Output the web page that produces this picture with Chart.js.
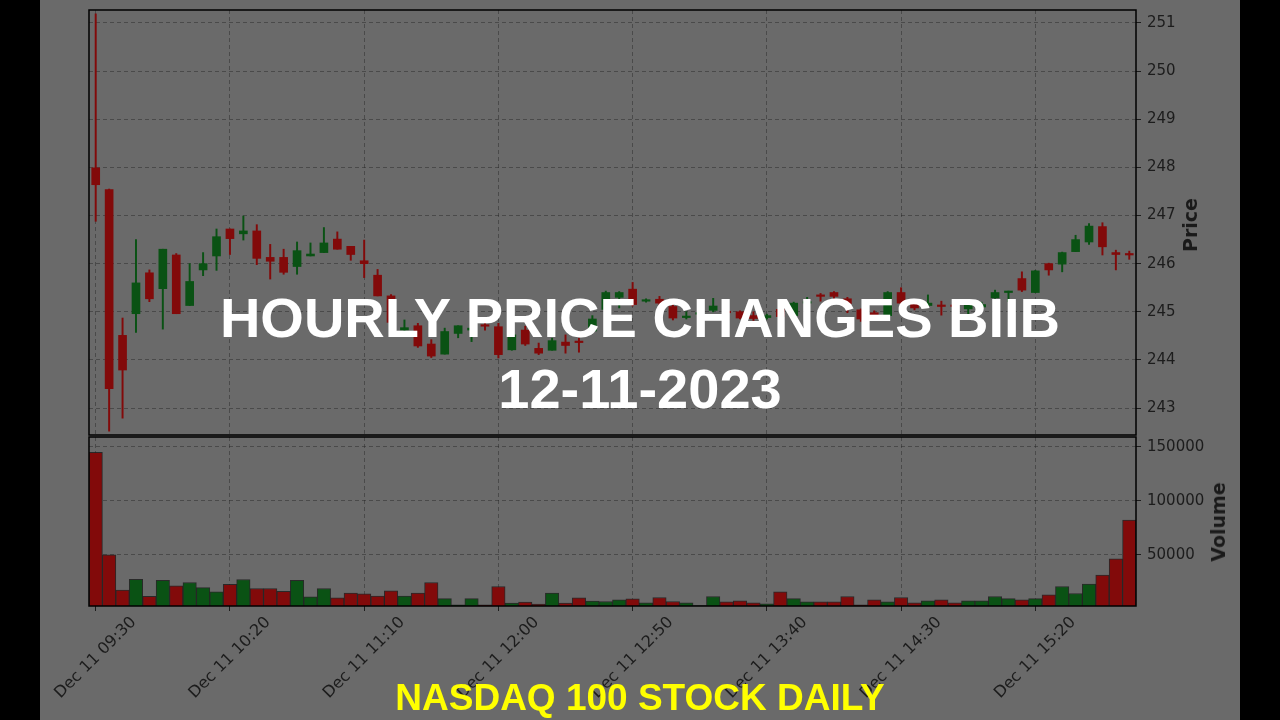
<!DOCTYPE html>
<html>
<head>
<meta charset="utf-8">
<script src="https://cdn.jsdelivr.net/npm/chart.js@4.4.0/dist/chart.umd.min.js"></script>
<style>
  html, body { margin: 0; padding: 0; background: #000; }
  #stage { position: relative; width: 1280px; height: 720px; overflow: hidden; background: #000; }
  #panel { position: absolute; left: 40px; top: 0; width: 1200px; height: 720px; background: #6a6a6a; }
  canvas { position: absolute; left: 0; }
  #priceChart { top: 0; }
  #volumeChart { top: 430px; }
  .ttl { position: absolute; left: 0; width: 1280px; text-align: center; white-space: nowrap;
         font-family: 'Liberation Sans', Arial, sans-serif; font-weight: bold; }
  .axis-title { position: absolute; font-family: 'DejaVu Sans', sans-serif; font-weight: bold; font-size: 19px;
                color: #1a1a1a; white-space: nowrap; transform: translate(-50%, -50%) rotate(-90deg); }
</style>
</head>
<body>
<div id="stage">
  <div id="panel"></div>
  <canvas id="priceChart" width="1280" height="436"></canvas>
  <canvas id="volumeChart" width="1280" height="290"></canvas>
  <div class="axis-title" style="left:1190px; top:225px;">Price</div>
  <div class="axis-title" style="left:1218px; top:522px;">Volume</div>
  <div class="ttl" style="top:290px; font-size:56px; line-height:56px; color:#fff;">HOURLY PRICE CHANGES BIIB</div>
  <div class="ttl" style="top:361px; font-size:56px; line-height:56px; color:#fff;">12-11-2023</div>
  <div class="ttl" style="top:679px; font-size:37px; line-height:37px; color:#ffff00;">NASDAQ 100 STOCK DAILY</div>
</div>
<script>
// 5分足の時刻
const TIMES = [
  '09:30','09:35','09:40','09:45','09:50','09:55',
  '10:00','10:05','10:10','10:15','10:20','10:25','10:30','10:35','10:40','10:45','10:50','10:55',
  '11:00','11:05','11:10','11:15','11:20','11:25','11:30','11:35','11:40','11:45','11:50','11:55',
  '12:00','12:05','12:10','12:15','12:20','12:25','12:30','12:35','12:40','12:45','12:50','12:55',
  '13:00','13:05','13:10','13:15','13:20','13:25','13:30','13:35','13:40','13:45','13:50','13:55',
  '14:00','14:05','14:10','14:15','14:20','14:25','14:30','14:35','14:40','14:45','14:50','14:55',
  '15:00','15:05','15:10','15:15','15:20','15:25','15:30','15:35','15:40','15:45','15:50','15:55'
];
const X_TICK_LABELS = ['Dec 11 09:30','Dec 11 10:20','Dec 11 11:10','Dec 11 12:00',
                       'Dec 11 12:50','Dec 11 13:40','Dec 11 14:30','Dec 11 15:20'];
const PRICE_TICKS = [243, 244, 245, 246, 247, 248, 249, 250, 251];
const VOLUME_TICKS = [50000, 100000, 150000];

const OPEN = [
  247.99, 247.54, 244.51, 244.96, 245.81, 245.48, 246.18, 245.13, 245.87, 246.16,
  246.72, 246.62, 246.68, 246.13, 246.13, 245.94, 246.16, 246.23, 246.51, 246.36,
  246.06, 245.76, 245.33, 244.62, 244.71, 244.33, 244.12, 244.55, 244.62, 244.73,
  244.69, 244.21, 244.62, 244.24, 244.20, 244.37, 244.38, 244.60, 245.05, 245.30,
  245.47, 245.22, 245.26, 245.11, 244.88, 244.95, 245.03, 245.00, 245.00, 244.92,
  244.88, 245.05, 244.92, 245.18, 245.35, 245.40, 245.27, 245.04, 244.98, 244.92,
  245.40, 245.17, 245.13, 245.13, 245.13, 245.06, 245.10, 245.29, 245.40, 245.69,
  245.40, 246.00, 245.99, 246.25, 246.45, 246.77, 246.23, 246.21
];
const HIGH = [
  251.19, 247.55, 244.87, 246.50, 245.87, 246.30, 246.21, 246.00, 246.23, 246.72,
  246.72, 246.99, 246.81, 246.40, 246.30, 246.45, 246.43, 246.75, 246.66, 246.36,
  246.49, 245.88, 245.36, 244.83, 244.76, 244.42, 244.66, 244.71, 244.72, 244.79,
  244.76, 244.78, 244.70, 244.35, 244.45, 244.52, 244.45, 244.92, 245.43, 245.42,
  245.61, 245.27, 245.32, 245.18, 245.00, 245.02, 245.28, 245.02, 245.02, 245.00,
  244.95, 245.10, 245.20, 245.30, 245.38, 245.42, 245.30, 245.06, 245.02, 245.42,
  245.50, 245.19, 245.35, 245.22, 245.25, 245.20, 245.20, 245.45, 245.43, 245.83,
  245.86, 246.01, 246.24, 246.59, 246.83, 246.85, 246.28, 246.26
];
const LOW = [
  246.88, 242.52, 242.79, 244.57, 245.21, 244.64, 244.96, 245.13, 245.75, 245.86,
  246.19, 246.49, 245.98, 245.68, 245.78, 245.78, 246.16, 246.23, 246.30, 246.07,
  245.71, 245.33, 244.65, 244.59, 244.26, 244.05, 244.12, 244.46, 244.38, 244.62,
  244.04, 244.20, 244.30, 244.11, 244.20, 244.14, 244.16, 244.58, 244.95, 245.08,
  245.12, 245.20, 245.10, 244.83, 244.85, 244.90, 245.00, 244.95, 244.85, 244.82,
  244.85, 244.85, 244.90, 245.10, 245.22, 245.28, 244.98, 244.80, 244.85, 244.88,
  245.14, 245.04, 245.11, 244.93, 245.05, 244.96, 245.05, 245.28, 245.21, 245.42,
  245.40, 245.76, 245.83, 246.25, 246.40, 246.18, 245.87, 246.09
];
const CLOSE = [
  247.64, 243.40, 243.79, 245.60, 245.27, 246.30, 244.96, 245.63, 246.00, 246.56,
  246.52, 246.68, 246.11, 246.05, 245.82, 246.27, 246.20, 246.43, 246.30, 246.19,
  246.00, 245.33, 244.78, 244.67, 244.29, 244.08, 244.59, 244.71, 244.66, 244.70,
  244.11, 244.52, 244.33, 244.14, 244.40, 244.30, 244.36, 244.85, 245.40, 245.40,
  245.15, 245.25, 245.18, 244.87, 244.91, 244.98, 245.12, 244.98, 244.87, 244.86,
  244.92, 244.90, 245.18, 245.20, 245.32, 245.32, 245.17, 244.85, 244.88, 245.40,
  245.18, 245.08, 245.18, 245.11, 245.11, 245.16, 245.15, 245.40, 245.43, 245.45,
  245.85, 245.87, 246.23, 246.50, 246.78, 246.35, 246.19, 246.18
];
const VOLUME = [
  145000, 50000, 17300, 27200, 11500, 26200, 21200, 24300, 19600, 15600,
  22500, 27100, 18700, 18700, 16200, 26200, 10900, 18700, 10000, 14600,
  13700, 11800, 16500, 11800, 14600, 24300, 9300, 3700, 9300, 3700,
  20600, 5300, 6200, 4300, 14600, 5300, 10000, 7100, 6700, 8200,
  9100, 5400, 10400, 6700, 5400, 2900, 11300, 6350, 7300, 5400,
  4500, 15600, 9400, 6350, 6350, 6350, 11300, 3600, 8200, 6350,
  10400, 5400, 7300, 8200, 5400, 7300, 7300, 11300, 9400, 8200,
  9400, 12800, 20600, 14100, 22800, 31100, 46300, 82200
];

const UP_COLOR = '#0a5214';
const DOWN_COLOR = '#820a0a';
const GRID_COLOR = 'rgba(35, 35, 35, 0.45)';
const TICK_COLOR = '#1c1c1c';
const Y_FONT = { family: 'DejaVu Sans', size: 15 };
const X_FONT = { family: 'DejaVu Sans', size: 16 };
const AXIS_W = 80;

const labels = TIMES.map(t => 'Dec 11 ' + t);
const candleColors = OPEN.map((o, i) => CLOSE[i] >= o ? UP_COLOR : DOWN_COLOR);

// 表示する目盛りだけ残す
function keepXTicks(scale) {
  scale.ticks = scale.ticks.filter(t => X_TICK_LABELS.includes(labels[t.value]));
}

// 軸の大きさを固定して、ラベル分の余白を消す
function fixY(scale) {
  scale.width = AXIS_W;
  scale.paddingTop = 0;
  scale.paddingBottom = 0;
}
function fixX(height) {
  return scale => {
    scale.height = height;
    scale.paddingLeft = 0;
    scale.paddingRight = 0;
  };
}

// パネルの枠線
const framePlugin = {
  id: 'frame',
  afterDraw(chart) {
    const { ctx, chartArea: a } = chart;
    ctx.save();
    ctx.strokeStyle = '#000';
    ctx.lineWidth = 1.5;
    ctx.strokeRect(a.left, a.top, a.right - a.left, a.bottom - a.top);
    ctx.restore();
  }
};

new Chart(document.getElementById('priceChart'), {
  type: 'bar',
  data: {
    labels: labels,
    datasets: [
      { data: OPEN.map((o, i) => [o, CLOSE[i]]), backgroundColor: candleColors,
        barThickness: 8, minBarLength: 1.5, grouped: false },
      { data: LOW.map((l, i) => [l, HIGH[i]]), backgroundColor: candleColors,
        barThickness: 1.3, grouped: false }
    ]
  },
  options: {
    responsive: false, animation: false, devicePixelRatio: 1,
    layout: { padding: { top: 10, left: 89, right: 1280 - 1136 - AXIS_W, bottom: 1 } },
    plugins: { legend: { display: false }, tooltip: { enabled: false } },
    scales: {
      x: {
        offset: true,
        grid: { offset: false, color: GRID_COLOR, drawTicks: false },
        border: { display: false, dash: [4, 3] },
        ticks: { display: false, autoSkip: false },
        afterBuildTicks: keepXTicks,
        afterFit: fixX(0)
      },
      y: {
        position: 'right', min: 242.44, max: 251.27,
        afterBuildTicks: s => { s.ticks = PRICE_TICKS.map(v => ({ value: v })); },
        afterFit: fixY,
        grid: { color: GRID_COLOR, tickColor: TICK_COLOR, tickLength: 5 },
        border: { display: false, dash: [4, 3] },
        ticks: { padding: 6, color: TICK_COLOR, font: Y_FONT, callback: v => String(v) }
      }
    }
  },
  plugins: [framePlugin]
});

new Chart(document.getElementById('volumeChart'), {
  type: 'bar',
  data: {
    labels: labels,
    datasets: [
      { data: VOLUME, backgroundColor: candleColors, borderColor: 'rgba(25, 25, 25, 0.8)', borderWidth: 1,
        barPercentage: 1, categoryPercentage: 1 }
    ]
  },
  options: {
    responsive: false, animation: false, devicePixelRatio: 1,
    layout: { padding: { top: 7, left: 89, right: 1280 - 1136 - AXIS_W, bottom: 0 } },
    plugins: { legend: { display: false }, tooltip: { enabled: false } },
    scales: {
      x: {
        offset: true,
        grid: { offset: false, color: GRID_COLOR, tickColor: TICK_COLOR, tickLength: 5 },
        border: { display: false, dash: [4, 3] },
        ticks: { autoSkip: false, minRotation: 45, maxRotation: 45, labelOffset: 38, padding: 2,
                 color: TICK_COLOR, font: X_FONT },
        afterBuildTicks: keepXTicks,
        afterFit: fixX(114)
      },
      y: {
        position: 'right', min: 2500, max: 159260,
        afterBuildTicks: s => { s.ticks = VOLUME_TICKS.map(v => ({ value: v })); },
        afterFit: fixY,
        grid: { color: GRID_COLOR, tickColor: TICK_COLOR, tickLength: 5 },
        border: { display: false, dash: [4, 3] },
        ticks: { padding: 6, color: TICK_COLOR, font: Y_FONT, callback: v => String(v) }
      }
    }
  },
  plugins: [framePlugin]
});
</script>
</body>
</html>
